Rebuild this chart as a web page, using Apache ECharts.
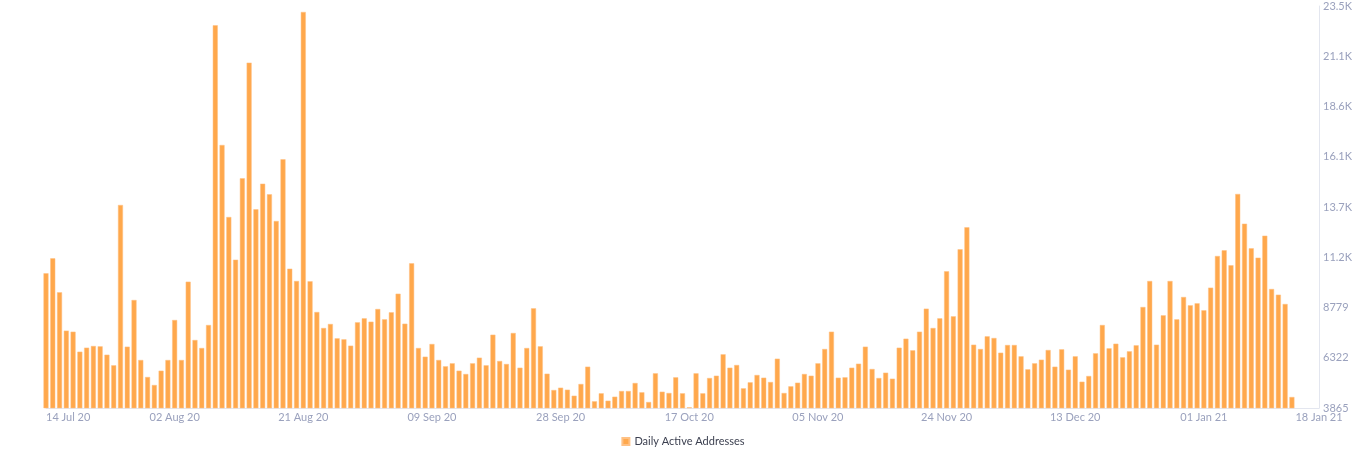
<!DOCTYPE html>
<html>
<head>
<meta charset="utf-8">
<script src="https://cdn.jsdelivr.net/npm/echarts@6/dist/echarts.min.js"></script>
<style>
html,body{margin:0;padding:0;background:#fff;}
#chart{width:1366px;height:462px;}
</style>
</head>
<body>
<div id="chart"></div>
<script>
// Category range: 14 Jul 2020 .. 18 Jan 2021 (daily)
const startDate = [2020, 6, 14];
const categoryCount = 189;
const monthNames = ['Jan','Feb','Mar','Apr','May','Jun','Jul','Aug','Sep','Oct','Nov','Dec'];

// Daily Active Addresses (from 14 Jul 2020)
const dailyActive = [
  10452, 11185, 9523, 7646, 7596, 6618, 6814, 6897, 6880, 6471,
  5953, 13792, 6863, 9146, 6212, 5381, 4990, 5689, 6212, 8168,
  6212, 10041, 7190, 6799, 7924, 22579, 16726, 13205, 11117, 15097,
  20750, 13581, 14833, 14315, 13009, 16026, 10677, 10075, 23229, 10061,
  8559, 7777, 7973, 7273, 7224, 6912, 8056, 8251, 8085, 8706,
  8202, 8545, 9454, 7987, 10941, 6799, 6374, 6995, 6212, 5904,
  6051, 5689, 5528, 6051, 6325, 5953, 7449, 6163, 6017, 7533,
  5836, 6799, 8740, 6882, 5542, 4745, 4858, 4760, 4466, 5039,
  5885, 4193, 4584, 4222, 4418, 4696, 4696, 5088, 4633, 4158,
  5562, 4662, 4599, 5366, 4584, 3900, 5562, 4584, 5332, 5444,
  6491, 5836, 5968, 4828, 5122, 5479, 5347, 5136, 6276, 4599,
  4926, 5102, 5528, 5444, 6051, 6750, 7596, 5347, 5366, 5836,
  6031, 6863, 5772, 5332, 5591, 5298, 6814, 7254, 6687, 7596,
  8721, 7777, 8251, 10550, 8349, 11625, 12701, 6960, 6750, 7371,
  7288, 6569, 6946, 6946, 6393, 5757, 6051, 6227, 6701, 5885,
  6735, 5738, 6393, 5151, 5430, 6540, 7924, 6784, 7009, 6344,
  6638, 6931, 8804, 10075, 6960, 8398, 10075, 8202, 9293, 8887,
  8985, 8643, 9748, 11298, 11577, 10843, 14330, 12877, 11674, 11215,
  12290, 9684, 9405, 8951, 4403
];

// Y-axis ticks: 3865 .. 23520 in 8 steps
const yMin = 3865;
const yMax = 23520;
const yStep = 2456.875;
const labelEvery = 19;

function buildCategories() {
  const out = [];
  const d = new Date(startDate[0], startDate[1], startDate[2]);
  for (let i = 0; i < categoryCount; i++) {
    const dd = String(d.getDate()).padStart(2, '0');
    out.push(dd + ' ' + monthNames[d.getMonth()] + ' ' + String(d.getFullYear()).slice(2));
    d.setDate(d.getDate() + 1);
  }
  return out;
}
const categories = buildCategories();

const chart = echarts.init(document.getElementById('chart'));
const labelColor = '#9aa1bd';
chart.setOption({
  animation: false,
  textStyle: { fontFamily: 'Lato, "Open Sans", sans-serif' },
  grid: { left: 46, right: 47, top: 6, bottom: 54 },
  legend: {
    bottom: 10,
    left: 'center',
    icon: 'rect',
    itemWidth: 7,
    itemHeight: 7,
    itemGap: 10,
    textStyle: { color: '#3b3f4f', fontSize: 11, fontFamily: 'Lato, "Open Sans", sans-serif' },
    data: ['Daily Active Addresses']
  },
  xAxis: {
    type: 'category',
    data: categories,
    boundaryGap: false,
    axisLine: { show: true, lineStyle: { color: '#e3e6ef' } },
    axisTick: { show: false },
    splitLine: { show: false },
    axisLabel: {
      color: labelColor,
      fontSize: 11,
      margin: 4,
      alignMinLabel: 'left',
      interval: function (idx) { return idx % labelEvery === 0 || idx === categoryCount - 1; }
    }
  },
  yAxis: {
    type: 'value',
    position: 'right',
    min: yMin,
    max: yMax,
    interval: yStep,
    axisLine: { show: true, lineStyle: { color: '#e3e6ef' } },
    axisTick: { show: false },
    splitLine: { show: false },
    axisLabel: {
      color: labelColor,
      fontSize: 11,
      margin: 4,
      formatter: function (v) {
        if (v >= 10000) return (v / 1000).toFixed(1) + 'K';
        return String(Math.round(v));
      }
    }
  },
  series: [{
    name: 'Daily Active Addresses',
    type: 'bar',
    data: dailyActive,
    barWidth: '74%',
    itemStyle: { color: '#ffa84c', borderColor: '#ffc184', borderWidth: 0.5 }
  }]
});
</script>
</body>
</html>
